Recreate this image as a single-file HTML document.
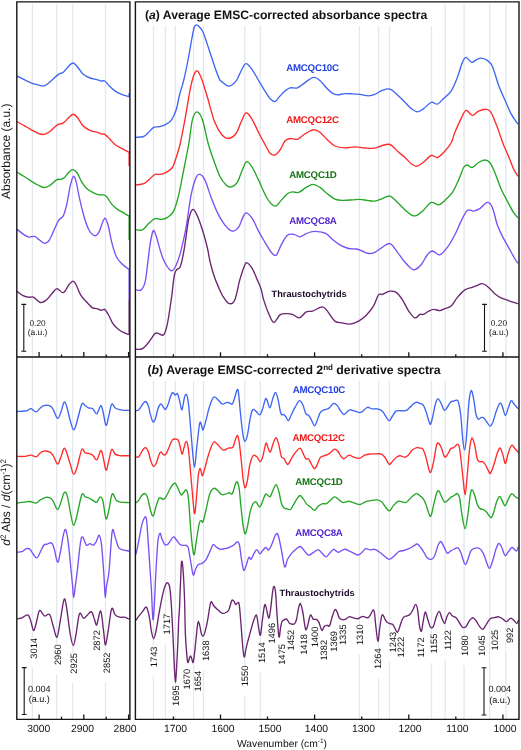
<!DOCTYPE html><html><head><meta charset="utf-8"><title>EMSC spectra</title><style>
html,body{margin:0;padding:0;background:#fff;width:521px;height:750px;overflow:hidden}
svg{display:block}text{font-family:"Liberation Sans",Arial,sans-serif;text-rendering:geometricPrecision}
</style></head><body>
<svg width="521" height="750" viewBox="0 0 521 750">
<defs>
<clipPath id="ctl"><rect x="16.8" y="1.9" width="113.1" height="355.1"/></clipPath>
<clipPath id="ctr"><rect x="135.4" y="1.9" width="383.6" height="355.1"/></clipPath>
<clipPath id="cbl"><rect x="16.8" y="357.0" width="113.1" height="362.4"/></clipPath>
<clipPath id="cbr"><rect x="135.4" y="357.0" width="383.6" height="362.4"/></clipPath>
</defs>
<path d="M153.5 3.9V357.0M153.5 357.0V719.4M165.4 3.9V357.0M165.4 357.0V719.4M175.3 3.9V357.0M175.3 357.0V719.4M193.6 3.9V357.0M193.6 357.0V719.4M203.5 3.9V357.0M203.5 357.0V719.4M244.8 3.9V357.0M244.8 357.0V719.4M260.3 3.9V357.0M260.3 357.0V719.4M359.4 3.9V357.0M359.4 357.0V719.4M378.6 3.9V357.0M378.6 357.0V719.4M389.5 3.9V357.0M389.5 357.0V719.4M431.5 3.9V357.0M431.5 357.0V719.4M445.2 3.9V357.0M445.2 357.0V719.4M464.1 3.9V357.0M464.1 357.0V719.4M489.7 3.9V357.0M489.7 357.0V719.4M506.0 3.9V357.0M506.0 357.0V719.4M32.4 3.9V719.4M56.7 3.9V719.4M72.6 3.9V719.4M105.5 3.9V719.4" stroke="#e1e8f0" stroke-width="1.3" fill="none"/>
<rect x="137" y="3" width="299" height="23" fill="#fff"/>
<rect x="137" y="358" width="310" height="23" fill="#fff"/>
<g clip-path="url(#ctr)" fill="none" stroke-width="1.35" stroke-linejoin="round" stroke-linecap="round"><path stroke="#3f66f2" d="M136.2 137.3C137.4 137.2 141.6 137.3 143.7 136.5C145.8 135.7 147.0 133.8 148.7 132.3C150.4 130.8 152.0 128.2 153.7 127.3C155.4 126.4 156.8 127.2 158.7 126.8C160.6 126.4 162.9 125.9 165.0 124.8C167.1 123.7 169.3 122.8 171.2 120.3C173.1 117.8 174.8 114.0 176.2 109.8C177.6 105.6 178.2 100.0 179.5 95.0C180.8 90.0 182.3 86.2 183.8 80.0C185.3 73.8 187.1 64.9 188.4 58.0C189.8 51.1 190.9 43.5 191.9 38.4C192.9 33.3 193.4 29.5 194.2 27.2C195.0 24.9 195.6 24.9 196.5 24.8C197.4 24.8 198.3 25.8 199.4 26.9C200.5 28.0 201.8 29.4 202.8 31.5C203.9 33.6 204.6 36.5 205.7 39.6C206.8 42.7 208.0 46.5 209.2 50.0C210.3 53.5 211.4 56.8 212.6 60.3C213.8 63.8 214.9 67.5 216.1 70.7C217.2 73.9 218.7 77.5 219.5 79.2C220.3 80.9 219.6 79.9 221.1 81.1C222.6 82.2 226.1 86.1 228.6 86.1C231.1 86.1 233.9 83.6 236.0 81.1C238.1 78.6 239.3 74.0 241.0 71.1C242.7 68.2 244.1 63.9 246.0 63.7C247.9 63.5 250.0 66.8 252.3 69.9C254.6 73.0 257.6 78.9 259.7 82.4C261.8 85.9 263.3 88.4 265.0 91.1C266.7 93.8 268.3 96.8 270.0 98.6C271.7 100.3 273.3 102.0 275.0 101.6C276.7 101.2 278.3 97.8 280.0 96.1C281.7 94.3 283.3 92.5 285.0 91.1C286.7 89.7 287.9 88.4 290.0 87.9C292.1 87.4 295.1 88.6 297.4 87.9C299.7 87.2 301.6 85.1 303.7 83.6C305.8 82.1 308.1 80.1 309.9 79.1C311.7 78.1 312.7 77.2 314.4 77.4C316.1 77.6 317.9 78.7 319.9 80.4C321.8 82.1 324.0 85.3 326.1 87.4C328.2 89.5 330.5 91.8 332.4 93.1C334.3 94.3 335.2 94.8 337.3 94.9C339.4 95.0 342.3 93.8 344.8 93.6C347.3 93.4 349.8 93.8 352.3 93.9C354.8 94.0 357.1 94.1 359.8 94.4C362.5 94.7 366.0 95.8 368.5 95.8C371.0 95.8 372.5 95.3 374.8 94.4C377.1 93.5 379.8 91.3 382.3 90.4C384.8 89.5 387.5 88.3 390.0 89.1C392.5 89.8 395.0 92.7 397.5 94.9C400.0 97.1 402.7 100.0 405.0 102.3C407.3 104.6 409.1 107.0 411.2 108.6C413.3 110.2 415.3 111.8 417.4 111.8C419.5 111.8 421.4 110.2 423.7 108.6C426.0 107.0 428.9 103.0 431.2 102.3C433.5 101.5 435.3 104.7 437.4 104.1C439.5 103.5 441.3 100.8 443.6 98.6C445.9 96.4 448.8 94.6 451.1 91.1C453.4 87.6 455.5 82.2 457.4 77.4C459.3 72.6 460.9 65.7 462.4 62.4C463.8 59.1 464.5 57.4 466.1 57.4C467.7 57.4 470.1 62.0 471.8 62.4C473.5 62.8 474.6 60.6 476.1 59.9C477.7 59.2 479.2 58.1 481.1 58.2C483.0 58.3 485.4 59.1 487.3 60.4C489.2 61.7 490.4 62.1 492.3 66.2C494.2 70.3 496.4 79.3 498.5 84.9C500.6 90.5 502.7 95.0 504.8 99.8C506.9 104.6 508.9 109.6 511.0 113.6C513.1 117.6 516.6 122.1 517.7 123.8"/><path stroke="#ff2a2a" d="M136.2 184.9C137.4 184.7 141.4 184.7 143.7 183.7C146.0 182.7 148.1 180.2 150.0 178.7C151.9 177.1 153.3 175.1 155.0 174.4C156.7 173.7 158.1 174.7 160.0 174.4C161.9 174.1 164.1 173.6 166.2 172.4C168.3 171.2 170.7 170.0 172.4 167.5C174.1 165.0 174.9 161.2 176.2 157.5C177.4 153.8 178.4 151.3 179.9 145.0C181.4 138.7 183.0 129.8 184.9 119.8C186.8 109.8 189.2 93.0 191.1 84.9C193.0 76.8 194.4 72.3 196.1 71.1C197.8 69.8 199.2 73.0 201.1 77.4C203.0 81.8 205.1 89.8 207.4 97.3C209.7 104.8 212.3 116.0 214.8 122.3C217.3 128.6 220.0 132.6 222.3 135.3C224.6 138.0 226.3 138.8 228.6 138.5C230.9 138.2 233.9 136.2 236.0 133.5C238.1 130.8 239.3 125.8 241.0 122.3C242.7 118.8 244.1 113.2 246.0 112.8C247.9 112.4 250.0 116.1 252.3 119.8C254.6 123.5 257.6 130.7 259.7 134.8C261.8 138.9 263.3 141.4 265.0 144.5C266.7 147.6 268.3 151.4 270.0 153.2C271.7 154.9 273.3 155.5 275.0 155.0C276.7 154.5 278.3 152.3 280.0 150.0C281.7 147.7 283.3 142.9 285.0 141.0C286.7 139.1 287.9 138.8 290.0 138.5C292.1 138.2 295.1 139.9 297.4 139.3C299.7 138.7 301.6 136.2 303.7 134.8C305.8 133.4 308.1 131.8 309.9 131.0C311.7 130.2 312.7 129.6 314.4 129.8C316.1 130.0 317.7 130.6 319.9 132.3C322.1 134.0 324.9 137.5 327.4 139.8C329.9 142.1 332.0 144.7 334.9 146.0C337.8 147.3 341.5 147.7 344.8 147.8C348.1 147.9 351.5 146.8 354.8 146.8C358.1 146.8 361.5 147.8 364.8 148.0C368.1 148.2 371.9 148.6 374.8 148.2C377.7 147.8 379.8 146.1 382.3 145.5C384.8 144.9 387.5 143.6 390.0 144.5C392.5 145.4 395.0 149.0 397.5 151.2C400.0 153.4 402.7 155.4 405.0 157.5C407.3 159.6 409.2 162.2 411.2 163.7C413.2 165.1 414.8 166.5 416.9 166.2C419.0 165.9 421.3 163.8 423.7 162.0C426.1 160.2 428.9 156.2 431.2 155.5C433.5 154.8 435.3 158.0 437.4 157.5C439.5 157.0 441.3 154.9 443.6 152.5C445.9 150.1 449.2 146.4 451.1 143.0C453.0 139.6 453.2 136.4 454.9 132.3C456.6 128.2 459.2 122.3 461.1 118.6C463.0 114.9 464.2 110.8 466.1 110.3C468.0 109.8 470.2 115.2 472.3 115.3C474.4 115.4 476.3 112.1 478.6 111.1C480.9 110.1 484.0 109.1 486.1 109.3C488.2 109.5 489.1 109.3 491.0 112.3C492.9 115.3 495.2 121.9 497.3 127.3C499.4 132.7 501.6 140.0 503.5 144.8C505.4 149.6 506.8 152.2 508.5 156.2C510.2 160.2 512.0 165.4 513.5 168.7C515.0 172.0 517.0 174.6 517.7 175.8"/><path stroke="#26a626" d="M136.2 229.8C137.2 229.8 140.4 230.8 142.5 229.8C144.6 228.8 146.6 225.5 148.7 223.6C150.8 221.7 152.9 219.3 155.0 218.6C157.1 217.9 159.1 219.6 161.2 219.4C163.3 219.2 165.3 218.8 167.4 217.4C169.5 216.0 171.8 214.8 173.7 211.1C175.6 207.3 177.0 201.8 178.7 194.9C180.4 188.1 182.0 178.3 183.7 170.0C185.3 161.7 187.1 153.4 188.6 145.0C190.1 136.6 191.0 125.3 192.4 119.8C193.8 114.3 195.2 111.8 196.9 111.8C198.6 111.8 200.5 114.3 202.4 119.8C204.3 125.3 206.7 138.3 208.6 145.0C210.5 151.7 211.7 154.8 213.6 160.0C215.5 165.2 217.7 172.0 219.8 176.2C221.9 180.3 224.2 183.1 226.1 184.9C228.0 186.7 229.2 187.3 231.1 186.9C233.0 186.5 235.4 185.2 237.3 182.4C239.2 179.6 240.7 173.4 242.3 170.0C243.9 166.6 245.1 162.1 246.8 161.7C248.5 161.3 250.4 164.5 252.3 167.5C254.2 170.5 256.4 175.5 258.5 179.9C260.6 184.3 262.8 189.9 264.7 193.7C266.6 197.4 268.2 200.3 270.0 202.4C271.8 204.5 273.6 206.4 275.5 206.1C277.4 205.8 279.2 202.5 281.2 200.4C283.2 198.3 285.5 195.1 287.4 193.7C289.3 192.3 290.5 192.1 292.4 191.9C294.3 191.7 296.4 193.2 298.7 192.4C301.0 191.7 303.8 188.7 306.2 187.4C308.6 186.1 310.6 184.4 312.9 184.4C315.2 184.4 317.5 185.9 319.9 187.4C322.3 188.9 324.9 191.8 327.4 193.7C329.9 195.6 332.4 198.0 334.9 199.1C337.4 200.2 339.4 200.3 342.3 200.4C345.2 200.5 349.4 200.1 352.3 199.9C355.2 199.7 357.3 199.3 359.8 199.4C362.3 199.5 364.8 200.1 367.3 200.4C369.8 200.7 372.3 201.4 374.8 201.1C377.3 200.8 379.8 199.4 382.3 198.6C384.8 197.8 387.5 195.5 390.0 196.1C392.5 196.7 395.0 200.1 397.5 202.4C400.0 204.7 402.7 207.8 405.0 209.9C407.3 212.0 409.3 214.0 411.2 214.9C413.1 215.8 414.1 216.4 416.2 215.6C418.3 214.8 421.2 212.1 423.7 209.9C426.2 207.7 428.7 203.2 431.2 202.4C433.7 201.6 436.4 205.2 438.7 204.9C441.0 204.6 442.6 202.5 444.9 200.4C447.2 198.3 450.1 195.8 452.4 192.4C454.7 189.0 456.7 184.1 458.6 179.9C460.5 175.8 462.2 170.0 463.6 167.5C465.1 165.0 465.9 165.0 467.3 165.0C468.8 165.0 470.4 167.9 472.3 167.5C474.2 167.1 476.5 163.8 478.6 162.5C480.7 161.2 482.9 160.0 484.8 160.0C486.7 160.0 488.1 160.4 489.8 162.5C491.5 164.6 492.9 168.0 494.8 172.4C496.7 176.8 498.9 183.9 501.0 188.7C503.1 193.5 505.2 197.1 507.3 201.1C509.4 205.1 511.8 209.7 513.5 212.4C515.2 215.1 517.0 216.7 517.7 217.5"/><path stroke="#7a50f5" d="M136.2 289.9C137.0 289.9 139.7 291.1 141.2 289.9C142.7 288.6 143.9 286.5 145.0 282.4C146.1 278.2 146.7 271.3 147.5 265.0C148.3 258.7 149.1 250.5 150.0 244.8C150.9 239.2 152.1 233.0 153.0 231.1C153.9 229.2 154.6 231.9 155.3 233.5C156.1 235.1 156.7 237.8 157.5 240.5C158.3 243.2 159.1 246.5 160.0 249.5C160.9 252.5 161.9 255.8 163.0 258.5C164.1 261.2 165.3 263.6 166.5 265.5C167.7 267.4 169.0 269.2 170.0 270.0C171.0 270.8 171.7 270.9 172.5 270.5C173.3 270.1 174.1 269.2 175.0 267.5C175.9 265.8 177.0 263.4 178.0 260.5C179.0 257.6 179.8 255.3 181.2 249.8C182.5 244.3 184.4 236.5 186.1 227.3C187.8 218.2 189.4 203.2 191.1 194.9C192.8 186.6 194.6 180.8 196.1 177.4C197.6 174.0 198.4 174.0 199.9 174.4C201.4 174.8 203.0 176.1 204.9 179.9C206.8 183.7 209.0 192.0 211.1 197.4C213.2 202.8 215.0 207.8 217.3 212.4C219.6 217.0 222.3 221.7 224.8 224.8C227.3 227.9 230.0 230.7 232.3 231.1C234.6 231.5 236.8 229.4 238.5 227.3C240.2 225.2 241.1 221.0 242.3 218.6C243.6 216.2 244.3 212.9 246.0 212.9C247.7 212.9 250.2 215.6 252.3 218.6C254.4 221.6 256.4 227.1 258.5 231.1C260.6 235.1 262.9 238.8 265.0 242.3C267.1 245.8 269.3 250.1 271.2 252.3C273.1 254.5 274.5 256.6 276.2 255.3C277.9 254.1 279.3 248.1 281.2 244.8C283.1 241.5 285.3 237.1 287.4 235.3C289.5 233.6 291.6 234.1 293.7 234.3C295.8 234.6 297.8 236.9 299.9 236.8C302.0 236.7 304.1 234.5 306.2 233.6C308.3 232.7 310.1 231.9 312.4 231.6C314.7 231.3 317.6 231.5 319.9 231.8C322.2 232.1 324.0 232.3 326.1 233.6C328.2 234.8 330.1 237.4 332.4 239.3C334.7 241.2 337.1 243.3 339.8 244.8C342.5 246.3 345.9 247.8 348.6 248.5C351.3 249.2 353.8 248.6 356.1 249.0C358.4 249.4 360.2 250.2 362.3 251.0C364.4 251.8 366.4 253.3 368.5 253.5C370.6 253.7 372.5 253.3 374.8 252.3C377.1 251.3 379.8 248.8 382.3 247.3C384.8 245.9 387.5 242.8 390.0 243.6C392.5 244.4 395.0 249.2 397.5 252.3C400.0 255.4 402.7 259.6 405.0 262.3C407.3 265.0 409.5 267.3 411.2 268.5C412.9 269.7 413.3 270.3 415.0 269.7C416.7 269.1 419.1 267.3 421.2 264.8C423.3 262.3 425.5 257.1 427.4 254.8C429.3 252.5 430.3 251.0 432.4 251.0C434.5 251.0 437.4 255.4 439.9 254.8C442.4 254.2 444.9 250.6 447.4 247.3C449.9 244.0 452.6 239.2 454.9 234.8C457.2 230.4 459.0 225.2 461.1 221.1C463.2 217.0 465.2 212.1 467.3 210.4C469.4 208.7 471.5 211.4 473.6 211.1C475.7 210.8 477.5 210.0 479.8 208.6C482.1 207.2 485.2 202.6 487.3 202.4C489.4 202.2 490.6 203.7 492.3 207.4C494.0 211.1 495.6 220.0 497.3 224.8C499.0 229.6 500.4 232.3 502.3 236.1C504.2 239.8 506.4 243.6 508.5 247.3C510.6 251.0 513.2 255.9 514.7 258.5C516.2 261.1 517.2 262.2 517.7 263.0"/><path stroke="#6a2470" d="M136.2 349.3C137.2 349.2 140.4 349.8 142.5 348.6C144.6 347.4 146.6 344.8 148.7 342.3C150.8 339.8 153.3 335.1 155.0 333.6C156.7 332.2 157.2 333.4 158.7 333.6C160.1 333.8 162.2 336.5 163.7 334.8C165.1 333.1 166.2 329.4 167.4 323.6C168.7 317.8 170.0 308.0 171.2 299.9C172.4 291.8 173.4 280.1 174.4 275.0C175.4 269.9 176.0 270.8 176.9 269.5C177.8 268.2 179.0 269.3 179.9 267.5C180.8 265.7 181.6 262.5 182.4 258.7C183.2 254.9 183.9 251.3 184.9 244.8C185.9 238.3 187.3 225.8 188.6 219.9C189.9 214.0 191.4 210.0 192.9 209.4C194.4 208.8 195.8 212.7 197.4 216.1C199.0 219.5 200.7 224.5 202.4 229.8C204.1 235.1 206.2 242.8 207.4 248.0C208.7 253.2 208.9 256.6 209.9 261.0C210.9 265.4 212.2 270.1 213.6 274.5C215.0 278.9 216.9 283.6 218.6 287.4C220.3 291.2 221.8 294.7 223.6 297.4C225.4 300.1 227.4 303.2 229.3 303.6C231.2 304.0 233.1 303.8 234.8 299.9C236.6 295.9 238.1 285.7 239.8 279.9C241.5 274.1 243.6 267.8 244.8 265.0C246.1 262.2 246.1 262.4 247.3 263.0C248.6 263.6 250.6 265.9 252.3 268.7C254.0 271.5 255.9 276.6 257.3 279.9C258.8 283.2 259.9 285.4 261.0 288.7C262.1 292.0 262.4 295.8 263.7 299.9C265.0 304.0 267.0 309.9 268.7 313.6C270.4 317.4 271.8 322.2 273.7 322.4C275.6 322.6 277.9 316.4 280.0 314.9C282.1 313.4 284.1 313.7 286.2 313.6C288.3 313.5 290.2 313.7 292.4 314.4C294.6 315.1 297.1 318.3 299.4 317.9C301.7 317.5 304.0 313.0 306.2 311.9C308.4 310.8 309.7 311.9 312.4 311.1C315.1 310.3 319.9 306.9 322.4 306.9C324.9 306.9 325.3 308.7 327.4 311.1C329.5 313.5 332.4 319.1 334.9 321.1C337.4 323.1 339.8 322.4 342.3 322.9C344.8 323.4 347.1 324.4 349.8 324.1C352.5 323.8 355.9 322.6 358.6 321.1C361.3 319.7 363.5 317.9 366.0 315.4C368.5 312.9 371.4 309.5 373.5 306.1C375.6 302.7 377.0 296.8 378.5 294.9C380.0 292.9 380.4 295.0 382.3 294.4C384.2 293.8 387.7 291.5 390.0 291.2C392.3 290.9 394.1 290.9 396.2 292.4C398.3 293.8 400.4 296.8 402.5 299.9C404.6 303.0 406.6 308.1 408.7 311.1C410.8 314.1 413.1 317.3 415.0 317.9C416.9 318.4 418.4 315.0 419.9 314.4C421.3 313.8 422.2 314.9 423.7 314.4C425.2 313.8 427.0 311.9 428.7 311.1C430.4 310.3 431.8 309.5 433.7 309.4C435.6 309.3 438.0 310.7 439.9 310.6C441.8 310.5 443.0 309.4 444.9 308.6C446.8 307.9 449.0 308.0 451.1 306.1C453.2 304.2 455.1 300.1 457.4 297.4C459.7 294.7 462.4 291.6 464.9 289.9C467.4 288.2 470.2 288.1 472.3 287.4C474.4 286.6 475.6 286.0 477.3 285.4C479.0 284.8 480.4 283.4 482.3 283.7C484.2 284.0 486.5 285.7 488.6 287.4C490.7 289.1 492.7 291.9 494.8 293.7C496.9 295.4 498.7 296.8 501.0 297.9C503.3 299.0 505.7 299.7 508.5 300.6C511.3 301.6 516.2 303.1 517.7 303.6"/></g>
<g clip-path="url(#ctl)" fill="none" stroke-width="1.35" stroke-linejoin="round" stroke-linecap="round"><path stroke="#3f66f2" d="M17.3 76.2C18.4 76.8 21.7 78.4 24.2 79.6C26.7 80.8 30.0 82.4 32.3 83.3C34.6 84.2 36.3 84.4 38.0 84.9C39.7 85.4 41.1 86.2 42.6 86.1C44.1 86.0 45.5 85.3 47.2 84.2C48.9 83.1 51.1 80.9 53.0 79.2C54.9 77.5 57.1 75.3 58.8 74.1C60.5 72.9 61.7 73.6 63.4 72.2C65.1 70.8 67.5 67.3 69.1 65.8C70.7 64.3 71.7 62.9 73.0 63.0C74.3 63.1 75.5 64.7 77.2 66.5C78.9 68.3 80.8 72.2 82.9 74.1C85.0 76.0 87.6 77.1 89.9 78.0C92.2 78.9 94.9 79.1 96.8 79.6C98.7 80.1 100.1 80.8 101.4 81.0C102.7 81.2 103.5 80.2 104.8 81.0C106.1 81.8 107.7 84.4 109.4 86.1C111.1 87.8 113.1 89.7 115.2 91.1C117.3 92.5 119.9 93.7 122.1 94.6C124.3 95.5 127.5 96.3 128.6 96.6"/><path stroke="#ff2a2a" d="M17.3 121.8C18.4 122.5 21.7 124.3 24.2 125.7C26.7 127.1 30.0 129.0 32.3 130.3C34.6 131.6 36.1 132.6 38.0 133.3C39.9 134.0 41.9 134.7 43.8 134.4C45.7 134.1 47.6 133.0 49.5 131.7C51.4 130.4 53.8 127.7 55.3 126.4C56.8 125.1 57.4 124.7 58.8 124.1C60.1 123.5 61.7 124.1 63.4 122.9C65.1 121.8 67.5 118.7 69.1 117.2C70.7 115.8 71.7 114.2 73.0 114.2C74.3 114.2 75.5 115.3 77.2 117.2C78.9 119.1 80.8 123.5 82.9 125.7C85.0 127.9 87.6 129.2 89.9 130.3C92.2 131.4 94.9 131.5 96.8 132.1C98.7 132.7 100.1 133.6 101.4 134.0C102.7 134.4 103.5 133.6 104.8 134.4C106.1 135.2 107.7 136.9 109.4 138.6C111.1 140.3 113.1 143.1 115.2 144.8C117.3 146.5 119.9 147.5 122.1 148.7C124.3 149.9 127.5 151.4 128.6 152.0"/><path stroke="#26a626" d="M17.3 172.3C18.4 173.0 21.7 174.9 24.2 176.5C26.7 178.1 30.0 180.4 32.3 181.8C34.6 183.2 36.1 184.1 38.0 185.0C39.9 185.9 41.9 187.4 43.8 187.5C45.7 187.6 47.4 187.0 49.5 185.7C51.6 184.4 54.6 181.0 56.5 179.9C58.4 178.8 59.8 179.6 61.1 179.2C62.4 178.8 63.2 178.8 64.5 177.6C65.8 176.4 67.7 173.2 69.1 171.9C70.5 170.6 71.7 169.4 73.0 169.6C74.3 169.8 75.7 170.9 77.2 173.0C78.7 175.1 80.1 179.5 81.8 182.2C83.5 184.9 85.6 187.5 87.5 189.2C89.4 190.9 91.4 191.6 93.3 192.6C95.2 193.6 97.4 194.5 99.1 194.9C100.8 195.3 102.4 194.5 103.7 194.9C105.0 195.3 105.8 195.7 107.1 197.2C108.4 198.7 110.0 202.1 111.7 204.1C113.4 206.1 115.6 208.0 117.5 209.4C119.4 210.8 121.4 211.5 123.2 212.6C125.0 213.7 127.7 215.3 128.6 215.8"/><path stroke="#7a50f5" d="M17.3 229.5C18.3 230.3 21.2 232.8 23.1 234.1C25.0 235.4 26.9 236.7 28.8 237.1C30.7 237.5 32.9 235.9 34.6 236.4C36.3 236.9 37.6 238.7 39.2 239.8C40.9 241.0 42.8 243.3 44.5 243.3C46.2 243.3 47.9 242.1 49.5 239.8C51.1 237.5 52.7 232.8 54.2 229.5C55.8 226.2 57.3 222.5 58.8 220.2C60.3 217.9 62.1 218.3 63.4 215.6C64.7 212.9 65.6 209.1 66.8 204.1C68.0 199.1 69.2 190.3 70.3 185.7C71.4 181.1 72.3 177.3 73.3 176.5C74.2 175.7 75.0 177.4 76.0 181.1C77.0 184.8 78.2 192.4 79.5 198.4C80.8 204.4 82.6 211.6 84.1 216.8C85.6 222.0 87.0 226.3 88.7 229.5C90.4 232.7 92.8 235.3 94.5 235.7C96.2 236.1 97.8 234.0 99.1 231.8C100.4 229.6 101.5 224.7 102.5 222.5C103.5 220.3 104.3 217.8 105.3 218.4C106.3 219.0 107.2 222.1 108.3 226.0C109.4 229.9 110.4 237.0 111.7 242.1C113.0 247.2 114.6 252.8 116.3 256.5C118.0 260.1 120.0 261.9 122.1 264.0C124.1 266.1 127.5 268.2 128.6 269.0"/><path stroke="#6a2470" d="M17.3 291.5C18.3 292.2 21.2 294.7 23.1 295.6C25.0 296.6 27.1 296.9 28.8 297.2C30.5 297.5 31.5 296.3 33.4 297.2C35.3 298.1 38.2 302.0 40.3 302.5C42.4 303.0 44.2 301.6 46.1 300.2C48.0 298.8 50.0 295.7 51.8 293.8C53.6 291.9 55.0 288.9 56.9 288.7C58.8 288.5 61.4 293.3 63.4 292.6C65.4 291.9 67.5 286.4 69.1 284.5C70.7 282.6 71.8 281.1 73.0 281.1C74.2 281.1 74.7 282.2 76.0 284.5C77.3 286.8 78.9 292.0 80.6 294.9C82.3 297.8 84.5 299.7 86.4 301.8C88.3 303.9 90.5 306.5 92.2 307.6C93.9 308.8 95.3 308.2 96.8 308.7C98.3 309.1 100.1 310.2 101.4 310.3C102.7 310.4 103.7 308.7 104.8 309.4C105.9 310.1 106.9 312.1 108.3 314.5C109.7 316.9 111.2 321.2 112.9 323.7C114.6 326.2 116.7 328.0 118.6 329.5C120.5 331.0 122.7 332.1 124.4 332.9C126.1 333.7 127.9 334.2 128.6 334.5"/></g>
<g clip-path="url(#cbr)" fill="none" stroke-width="1.35" stroke-linejoin="round" stroke-linecap="round"><path stroke="#3f66f2" d="M136.0 410.7C136.5 410.6 137.7 410.9 138.8 409.8C139.9 408.7 141.6 405.4 142.7 404.0C143.8 402.6 144.6 401.2 145.6 401.5C146.6 401.8 147.6 403.7 148.4 405.9C149.2 408.1 149.7 411.9 150.4 414.5C151.2 417.1 152.1 421.0 152.9 421.8C153.7 422.6 154.3 421.5 155.2 419.3C156.0 417.1 157.1 411.4 158.0 408.8C158.9 406.2 159.9 404.2 160.9 404.0C161.9 403.8 163.0 406.9 163.8 407.8C164.6 408.7 164.9 410.0 165.7 409.2C166.5 408.4 167.8 405.1 168.6 403.0C169.4 400.9 169.8 398.1 170.5 396.3C171.2 394.6 171.8 392.7 172.6 392.5C173.4 392.3 174.5 394.8 175.3 395.0C176.1 395.2 176.8 392.5 177.6 393.8C178.4 395.1 179.4 400.3 180.1 403.0C180.8 405.7 181.3 410.8 182.0 409.8C182.7 408.9 183.8 399.9 184.5 397.3C185.2 394.7 185.6 394.1 186.2 394.4C186.8 394.7 187.2 395.5 187.8 399.2C188.4 402.9 189.0 408.5 189.7 416.5C190.4 424.5 191.4 438.7 192.2 447.2C193.0 455.7 193.7 467.3 194.5 467.3C195.3 467.3 195.9 454.6 196.8 447.2C197.7 439.8 198.9 426.7 199.7 423.2C200.5 419.7 201.2 425.0 201.8 426.1C202.4 427.2 202.4 430.9 203.1 429.9C203.8 428.9 205.0 423.8 206.0 420.3C207.0 416.8 207.9 412.2 208.9 408.8C209.9 405.4 210.9 402.2 211.8 400.2C212.7 398.2 213.4 397.1 214.3 396.9C215.2 396.7 216.2 398.0 217.5 399.2C218.8 400.4 220.9 403.4 222.3 404.0C223.8 404.6 225.1 402.8 226.2 402.6C227.3 402.4 228.0 402.4 229.0 402.6C230.0 402.8 231.3 404.9 232.3 404.0C233.3 403.1 234.0 399.7 234.8 397.3C235.6 394.9 236.7 390.2 237.3 389.6C237.9 389.0 238.1 389.2 238.6 393.4C239.1 397.5 239.8 407.4 240.6 414.5C241.3 421.6 242.4 431.2 243.1 435.7C243.8 440.2 244.3 441.4 245.0 441.4C245.7 441.4 246.4 439.5 247.3 435.7C248.2 431.9 249.3 422.7 250.2 418.4C251.1 414.1 251.6 411.0 252.6 409.8C253.6 408.6 254.7 410.2 255.9 411.1C257.1 412.0 258.7 415.3 259.8 414.9C260.9 414.5 261.7 411.5 262.6 408.8C263.6 406.1 264.7 400.1 265.5 398.8C266.3 397.5 266.7 399.6 267.4 401.1C268.1 402.6 269.0 408.1 269.9 407.8C270.8 407.5 271.7 401.8 272.6 399.2C273.5 396.6 274.6 392.5 275.5 392.5C276.4 392.5 277.1 395.7 278.0 399.2C278.9 402.7 279.9 411.1 280.9 413.6C281.8 416.2 282.9 414.0 283.7 414.5C284.5 415.0 284.9 415.5 285.7 416.5C286.5 417.5 287.6 421.0 288.5 420.7C289.4 420.4 290.3 416.8 291.4 414.5C292.5 412.2 293.9 409.2 295.3 406.9C296.7 404.6 298.2 401.0 299.5 400.7C300.8 400.4 301.8 402.9 302.9 405.0C303.9 407.1 304.8 411.9 305.8 413.6C306.8 415.4 307.7 414.4 308.7 415.5C309.7 416.6 310.6 418.6 311.6 420.3C312.6 422.0 313.6 425.7 314.5 425.7C315.4 425.7 316.4 422.5 317.3 420.3C318.2 418.1 319.1 414.4 320.2 412.6C321.3 410.9 322.6 410.5 324.0 409.8C325.4 409.1 327.2 409.5 328.8 408.4C330.4 407.3 332.2 403.8 333.6 403.4C335.1 403.0 336.4 404.7 337.5 405.9C338.6 407.1 339.3 409.3 340.4 410.7C341.4 412.1 342.7 414.3 343.8 414.5C344.9 414.7 346.1 412.5 347.1 411.7C348.1 410.9 348.7 409.9 350.0 409.8C351.3 409.7 353.1 410.6 354.8 411.1C356.5 411.6 358.5 412.8 360.1 412.6C361.7 412.4 363.1 410.7 364.3 409.8C365.6 408.9 366.3 407.5 367.6 407.3C368.9 407.1 370.5 408.6 372.0 408.8C373.5 409.1 375.4 408.6 376.8 408.8C378.2 409.0 379.6 409.2 380.7 409.8C381.8 410.4 382.6 411.3 383.5 412.6C384.4 413.9 385.4 416.0 386.4 417.4C387.4 418.8 388.3 420.8 389.3 420.7C390.3 420.6 391.1 418.1 392.2 416.5C393.3 414.9 394.6 412.1 396.0 411.1C397.4 410.1 399.2 410.8 400.8 410.7C402.4 410.6 404.2 411.2 405.6 410.7C407.1 410.2 408.2 408.9 409.5 407.8C410.8 406.7 412.1 404.9 413.3 404.0C414.5 403.1 415.5 402.2 416.7 402.1C417.9 402.1 419.5 403.3 420.5 403.7C421.5 404.1 422.0 403.4 422.9 404.6C423.8 405.8 424.9 408.1 425.8 410.7C426.8 413.3 427.8 418.1 428.6 420.3C429.4 422.5 429.8 425.2 430.6 424.1C431.4 423.0 432.6 417.0 433.4 413.6C434.2 410.2 434.6 406.5 435.4 404.0C436.1 401.5 437.0 399.0 437.9 398.8C438.8 398.6 439.6 400.7 440.7 402.6C441.8 404.5 443.3 409.7 444.5 410.3C445.7 410.9 446.8 407.9 447.8 406.5C448.8 405.1 449.7 403.0 450.7 402.1C451.7 401.2 452.6 401.4 453.6 401.1C454.6 400.8 455.7 400.0 456.5 400.2C457.3 400.4 457.7 399.7 458.4 402.1C459.1 404.5 460.0 408.6 460.7 414.5C461.4 420.4 462.0 431.7 462.6 437.6C463.2 443.5 463.9 450.1 464.5 450.1C465.1 450.1 465.7 445.5 466.4 437.6C467.1 429.8 468.1 410.8 468.9 403.0C469.7 395.2 470.4 391.2 471.2 390.6C472.0 390.0 472.9 395.2 473.7 399.2C474.5 403.2 475.2 411.1 476.0 414.5C476.8 417.9 477.6 418.8 478.5 419.3C479.4 419.8 480.4 417.5 481.4 417.4C482.4 417.2 483.3 417.5 484.3 418.4C485.3 419.3 486.2 421.3 487.2 422.6C488.2 423.9 489.2 426.2 490.1 426.1C491.1 426.0 491.9 424.4 492.9 422.2C493.8 419.9 494.7 415.7 495.8 412.6C496.9 409.5 498.6 404.3 499.7 403.4C500.8 402.4 501.6 404.9 502.5 406.9C503.4 408.9 504.4 415.4 505.4 415.5C506.4 415.6 507.3 410.3 508.3 407.8C509.3 405.3 510.2 401.3 511.2 400.7C512.1 400.1 512.9 402.7 514.0 404.0C515.1 405.3 517.2 407.7 517.9 408.4"/><path stroke="#ff2a2a" d="M136.0 456.8C136.5 456.8 137.7 457.9 138.8 456.8C139.9 455.7 141.6 451.5 142.7 450.0C143.8 448.5 144.6 447.3 145.6 447.6C146.6 447.9 147.6 449.8 148.4 452.0C149.2 454.2 149.8 458.2 150.7 460.6C151.6 463.0 152.6 466.0 153.6 466.3C154.6 466.6 155.6 464.4 156.5 462.5C157.4 460.6 158.3 456.6 159.0 454.9C159.7 453.1 160.1 452.0 160.9 452.0C161.7 452.0 162.9 454.6 163.8 454.9C164.7 455.2 165.2 455.3 166.1 453.9C167.0 452.4 168.4 448.5 169.5 446.2C170.6 443.9 171.3 441.1 172.4 439.9C173.5 438.7 175.2 438.9 176.3 439.1C177.4 439.4 177.9 438.9 178.8 441.4C179.8 443.9 181.2 452.8 182.0 453.9C182.8 455.0 183.2 450.2 183.9 448.1C184.6 446.0 185.4 441.2 186.2 441.4C186.9 441.6 187.7 443.7 188.4 449.1C189.2 454.5 190.1 467.4 190.7 474.0C191.3 480.6 191.4 482.2 192.0 488.8C192.6 495.4 193.8 511.8 194.5 513.4C195.2 515.0 195.8 504.7 196.4 498.4C197.0 492.1 197.7 480.4 198.3 475.4C198.9 470.4 199.4 469.2 199.9 468.6C200.4 468.0 200.8 470.3 201.2 471.5C201.6 472.7 202.0 476.3 202.6 475.7C203.2 475.1 204.1 470.8 205.0 467.7C205.9 464.6 206.8 460.5 207.9 456.8C209.0 453.1 210.8 447.8 211.8 445.3C212.8 442.8 213.2 442.0 214.1 441.8C215.0 441.6 216.0 442.9 217.5 444.3C219.0 445.7 221.5 449.5 223.3 450.1C225.1 450.7 226.5 448.6 228.1 448.1C229.7 447.6 231.7 448.6 232.9 447.2C234.1 445.8 234.6 441.4 235.4 439.5C236.2 437.6 237.0 434.7 237.7 435.7C238.4 436.7 239.0 440.8 239.6 445.3C240.2 449.8 240.9 456.9 241.5 462.5C242.1 468.1 242.5 475.0 243.1 479.2C243.7 483.4 244.3 487.5 245.0 487.8C245.7 488.1 246.5 484.8 247.3 481.1C248.1 477.4 248.7 470.0 249.6 465.8C250.5 461.6 251.8 457.3 253.0 455.8C254.2 454.3 255.7 455.8 256.9 456.8C258.1 457.8 259.3 461.8 260.3 461.6C261.3 461.4 262.1 458.9 263.0 455.8C263.9 452.8 265.1 444.7 265.9 443.3C266.7 441.9 267.1 445.8 267.8 447.2C268.5 448.6 269.4 452.6 270.3 452.0C271.2 451.4 272.2 445.7 273.2 443.3C274.2 440.9 275.2 437.3 276.1 437.6C277.1 437.9 278.0 442.1 278.9 445.3C279.8 448.5 280.5 454.6 281.4 456.8C282.3 459.0 283.1 457.4 284.1 458.7C285.1 460.0 286.4 464.5 287.6 464.5C288.8 464.5 290.1 460.7 291.4 458.7C292.7 456.7 293.9 454.4 295.3 452.6C296.8 450.8 298.8 448.1 300.1 448.1C301.4 448.2 301.9 451.1 302.9 452.9C303.8 454.7 304.8 457.7 305.8 458.7C306.8 459.7 307.7 458.1 308.7 459.1C309.7 460.1 310.6 462.9 311.6 464.5C312.6 466.1 313.6 468.7 314.5 468.7C315.4 468.7 316.4 466.3 317.3 464.5C318.2 462.7 319.1 459.1 320.2 457.7C321.3 456.2 322.6 456.4 324.0 455.8C325.4 455.2 327.0 455.0 328.8 453.9C330.6 452.8 333.0 449.4 334.6 449.1C336.2 448.8 337.3 450.7 338.4 452.0C339.5 453.3 340.3 455.7 341.3 456.8C342.3 457.9 342.9 459.0 344.2 458.7C345.5 458.4 347.4 455.4 349.0 455.2C350.6 454.9 352.1 456.7 353.8 457.2C355.6 457.7 357.6 458.7 359.5 458.3C361.4 457.9 363.4 455.6 365.3 454.9C367.2 454.2 369.2 454.1 371.1 453.9C373.0 453.7 375.2 453.9 376.8 453.9C378.4 453.9 379.4 453.4 380.7 453.9C382.0 454.4 383.4 455.5 384.5 456.8C385.6 458.1 386.5 460.3 387.4 461.6C388.2 462.9 388.7 464.7 389.6 464.5C390.6 464.3 391.9 461.9 393.1 460.6C394.3 459.3 395.7 457.6 397.0 456.8C398.3 456.0 399.5 455.7 400.8 455.8C402.1 455.9 403.4 457.4 404.7 457.2C406.0 457.0 407.2 456.1 408.5 454.9C409.8 453.7 410.9 451.3 412.3 450.1C413.7 448.9 415.4 447.9 416.7 447.6C418.0 447.3 419.0 447.9 420.0 448.1C421.0 448.4 421.9 447.7 422.9 449.1C423.9 450.6 424.9 453.6 425.8 456.8C426.8 460.0 427.8 465.7 428.6 468.3C429.4 470.9 429.9 473.5 430.8 472.2C431.7 470.9 432.9 464.9 433.8 460.6C434.7 456.3 435.6 449.1 436.3 446.2C437.0 443.3 437.4 442.8 438.2 443.0C439.0 443.2 440.0 444.9 441.1 447.2C442.2 449.5 443.5 455.7 444.6 456.8C445.7 457.9 446.8 455.2 447.8 453.9C448.8 452.5 449.7 449.8 450.7 448.7C451.7 447.6 452.5 448.3 453.6 447.6C454.7 446.9 456.4 444.4 457.4 444.3C458.3 444.2 458.6 444.2 459.3 447.2C460.0 450.2 460.7 457.0 461.3 462.5C461.9 468.0 462.6 474.6 463.2 480.0C463.8 485.4 464.5 494.9 465.1 494.9C465.7 494.9 466.3 485.1 466.8 480.0C467.3 474.9 467.7 469.2 468.2 464.0C468.7 458.8 469.0 453.3 469.6 449.0C470.2 444.7 471.0 438.6 471.8 438.0C472.6 437.4 473.8 441.9 474.7 445.3C475.6 448.8 476.4 456.0 477.2 458.7C478.0 461.4 478.6 461.1 479.5 461.6C480.4 462.1 481.4 461.1 482.4 461.6C483.4 462.1 484.4 463.1 485.3 464.5C486.2 465.9 487.2 468.7 488.1 470.2C489.0 471.7 489.4 474.3 490.4 473.4C491.4 472.4 492.7 468.1 493.9 464.5C495.1 460.9 496.6 454.7 497.7 452.0C498.8 449.3 499.3 447.6 500.2 448.1C501.1 448.6 502.0 452.3 502.9 454.9C503.8 457.5 504.5 463.8 505.4 463.5C506.3 463.2 507.2 455.9 508.3 452.9C509.4 449.9 510.6 446.0 511.7 445.3C512.8 444.6 514.0 447.6 515.0 448.7C516.0 449.8 517.4 451.4 517.9 452.0"/><path stroke="#26a626" d="M136.0 502.6C136.5 502.2 137.9 501.5 138.8 500.3C139.8 499.1 140.7 496.6 141.7 495.5C142.7 494.4 144.0 493.3 145.0 493.6C146.0 493.9 146.6 494.7 147.5 497.4C148.4 500.1 149.5 506.8 150.4 509.9C151.3 513.0 152.2 516.6 153.2 516.0C154.1 515.4 155.1 509.0 156.1 506.1C157.1 503.2 158.2 499.8 159.0 498.4C159.8 497.0 160.1 497.9 160.9 498.0C161.7 498.1 162.8 499.7 163.8 499.3C164.8 498.9 165.8 497.1 166.7 495.5C167.6 493.9 168.6 491.6 169.5 489.8C170.4 488.1 171.4 486.1 172.4 485.0C173.4 483.9 174.3 482.8 175.3 483.4C176.3 484.0 177.2 486.9 178.2 488.8C179.2 490.7 180.1 494.3 181.1 494.9C182.1 495.5 183.0 493.0 183.9 492.2C184.8 491.4 185.7 488.8 186.4 489.8C187.2 490.8 187.7 491.8 188.4 498.4C189.1 504.9 190.0 520.8 190.7 529.1C191.4 537.4 192.0 544.1 192.6 548.3C193.2 552.5 193.7 555.8 194.3 554.5C194.9 553.2 195.6 545.8 196.4 540.6C197.2 535.4 198.5 526.6 199.3 523.3C200.1 519.9 200.6 520.8 201.2 520.5C201.8 520.2 202.3 523.6 203.1 521.8C203.9 520.0 204.9 514.6 206.0 509.9C207.1 505.2 208.6 497.2 209.9 493.6C211.2 490.0 212.4 488.9 213.7 488.4C215.0 487.8 216.2 489.3 217.5 490.3C218.8 491.3 220.1 493.9 221.4 494.5C222.7 495.1 223.9 494.5 225.2 494.2C226.5 493.9 227.8 492.9 229.0 492.8C230.2 492.7 231.2 495.3 232.3 493.8C233.4 492.3 234.6 485.9 235.4 484.0C236.2 482.1 236.7 481.3 237.3 482.1C237.9 482.9 238.6 484.5 239.2 488.8C239.8 493.1 240.4 501.9 241.1 508.0C241.8 514.1 242.4 521.0 243.1 525.3C243.8 529.6 244.3 533.6 245.0 533.9C245.7 534.2 246.4 530.9 247.3 527.2C248.2 523.5 249.2 515.7 250.2 511.8C251.1 507.9 252.1 505.5 253.0 503.8C253.9 502.1 254.8 501.3 255.9 501.8C257.0 502.3 258.7 507.1 259.8 507.0C260.9 506.9 261.7 503.4 262.6 501.3C263.6 499.2 264.6 495.2 265.5 494.2C266.4 493.2 267.2 495.1 268.0 495.5C268.8 495.9 269.4 497.4 270.3 496.5C271.2 495.6 272.2 491.8 273.2 489.8C274.2 487.8 275.2 484.3 276.1 484.6C277.1 484.9 278.0 488.6 278.9 491.7C279.8 494.8 280.5 500.5 281.4 503.2C282.3 505.9 283.1 507.1 284.1 508.0C285.1 508.9 286.1 508.6 287.2 508.9C288.3 509.1 289.5 510.1 290.5 509.5C291.5 508.9 292.2 507.0 293.3 505.1C294.4 503.2 296.1 500.0 297.2 498.4C298.3 496.8 299.2 495.5 300.1 495.5C301.1 495.5 301.8 497.0 302.9 498.4C304.0 499.8 305.5 502.7 306.8 504.1C308.1 505.5 309.3 506.0 310.6 507.0C311.9 508.0 313.2 510.4 314.5 510.3C315.8 510.2 317.0 507.2 318.3 506.1C319.6 505.0 320.8 504.2 322.1 503.8C323.4 503.4 324.9 504.1 326.0 503.8C327.1 503.5 327.4 503.0 328.8 501.8C330.2 500.6 333.0 497.3 334.6 496.9C336.2 496.5 337.0 498.4 338.4 499.3C339.8 500.2 341.4 502.3 343.2 502.6C345.0 502.9 347.1 501.2 349.0 501.3C350.9 501.4 352.9 502.7 354.8 503.2C356.7 503.7 358.4 504.7 360.1 504.5C361.9 504.3 363.6 502.4 365.3 501.8C367.0 501.2 368.2 501.0 370.1 500.7C372.0 500.4 374.9 499.7 376.8 499.9C378.7 500.1 380.2 500.6 381.6 501.8C383.1 503.0 384.2 505.5 385.5 507.0C386.8 508.5 388.0 511.0 389.3 510.9C390.6 510.8 391.7 507.7 393.1 506.1C394.5 504.5 396.4 502.0 397.9 501.3C399.3 500.6 400.5 501.6 401.8 501.8C403.1 502.0 404.3 503.0 405.6 502.6C406.9 502.2 408.2 500.5 409.5 499.3C410.8 498.1 412.1 496.4 413.3 495.5C414.5 494.6 415.5 493.5 416.7 493.6C417.9 493.7 419.5 495.5 420.5 496.3C421.5 497.1 422.0 497.1 422.9 498.4C423.8 499.7 424.9 501.7 425.8 504.1C426.8 506.5 427.8 510.8 428.6 512.8C429.5 514.8 430.0 517.5 430.9 516.0C431.8 514.5 432.9 507.7 433.8 504.1C434.7 500.5 435.5 496.4 436.3 494.2C437.1 492.0 437.7 490.3 438.6 490.7C439.5 491.1 440.5 494.6 441.5 496.5C442.5 498.4 443.6 501.6 444.6 502.2C445.7 502.8 446.8 501.1 447.8 500.3C448.8 499.5 449.6 498.2 450.7 497.4C451.8 496.6 453.1 496.1 454.2 495.5C455.3 494.9 456.5 493.1 457.4 493.6C458.3 494.1 459.0 495.0 459.7 498.4C460.4 501.8 460.9 508.7 461.8 513.7C462.7 518.8 464.1 528.7 465.1 528.7C466.1 528.7 467.1 519.4 468.0 513.7C468.9 508.0 469.6 498.5 470.3 494.5C471.0 490.5 471.5 489.6 472.2 489.8C472.9 490.0 473.8 492.9 474.7 495.5C475.6 498.1 476.6 502.9 477.6 505.1C478.6 507.3 479.6 508.2 480.5 508.9C481.4 509.6 482.4 509.0 483.3 509.5C484.2 510.0 485.2 510.8 486.2 511.8C487.2 512.8 488.2 514.7 489.1 515.7C490.0 516.7 490.6 518.2 491.4 517.6C492.2 517.0 493.0 514.5 493.9 511.8C494.8 509.1 495.8 503.9 496.8 501.3C497.8 498.8 498.8 496.5 499.7 496.5C500.6 496.5 501.6 499.8 502.5 501.3C503.4 502.8 504.0 506.0 505.0 505.7C506.0 505.4 507.2 501.3 508.3 499.3C509.4 497.3 510.6 494.1 511.7 493.6C512.8 493.1 514.0 495.7 515.0 496.5C516.0 497.3 517.4 498.1 517.9 498.4"/><path stroke="#7a50f5" d="M136.0 554.0C136.5 551.8 137.9 545.4 138.8 540.6C139.8 535.8 140.7 529.1 141.7 525.3C142.7 521.5 143.8 518.6 144.6 517.6C145.4 516.6 145.9 515.7 146.5 519.5C147.1 523.3 147.6 533.9 148.1 540.6C148.6 547.4 148.9 552.0 149.4 560.0C149.9 568.0 150.7 578.5 151.3 588.4C151.9 598.2 152.4 615.9 152.9 619.1C153.4 622.3 153.8 614.1 154.2 607.6C154.6 601.1 155.1 587.9 155.5 580.0C155.9 572.1 156.2 566.6 156.6 560.0C157.0 553.4 157.4 545.1 158.0 540.6C158.6 536.1 159.3 533.6 160.0 533.3C160.7 533.0 161.1 536.8 161.9 538.7C162.7 540.6 163.9 543.5 164.8 544.5C165.8 545.5 166.7 545.1 167.6 544.5C168.5 543.9 169.5 541.9 170.5 540.6C171.5 539.3 172.4 536.9 173.4 536.8C174.4 536.6 175.2 538.4 176.3 539.7C177.4 541.0 178.8 543.5 180.1 544.5C181.4 545.5 182.8 545.2 183.9 545.4C185.0 545.5 185.7 544.9 186.4 545.4C187.2 545.9 187.7 545.6 188.4 548.3C189.1 551.0 189.9 557.0 190.7 561.5C191.5 566.0 192.4 573.7 193.2 575.0C194.0 576.3 194.7 571.0 195.5 569.2C196.3 567.4 197.2 565.4 198.3 564.4C199.4 563.4 200.9 564.2 202.2 563.4C203.5 562.6 204.9 561.2 206.0 559.6C207.1 558.0 208.1 555.5 208.9 553.8C209.7 552.1 210.1 551.0 210.8 549.5C211.5 548.0 212.3 544.9 213.3 544.5C214.3 544.1 215.4 546.5 216.6 547.3C217.8 548.1 219.1 549.1 220.4 549.3C221.7 549.5 223.0 548.9 224.3 548.7C225.6 548.5 226.8 548.4 228.1 547.9C229.4 547.4 230.9 546.5 231.9 546.0C232.9 545.5 232.8 545.7 233.8 545.0C234.8 544.3 236.7 541.7 237.7 541.8C238.7 541.9 239.0 542.6 239.6 545.6C240.2 548.6 240.8 555.4 241.5 559.5C242.2 563.6 243.0 569.4 243.8 570.3C244.6 571.2 245.5 567.2 246.3 565.0C247.1 562.8 248.0 558.3 248.8 557.3C249.6 556.3 250.2 559.9 251.1 559.2C252.0 558.6 253.0 555.0 254.0 553.4C255.0 551.8 255.9 549.5 256.9 549.6C257.9 549.7 258.9 553.6 259.8 553.8C260.8 554.0 261.6 551.6 262.6 550.6C263.6 549.6 264.9 547.6 265.9 547.5C266.9 547.4 267.5 550.3 268.4 550.0C269.3 549.7 270.2 547.9 271.3 545.5C272.4 543.1 274.1 537.7 275.1 535.8C276.2 533.9 276.8 532.8 277.6 533.9C278.4 535.0 279.2 539.5 279.9 542.5C280.6 545.5 281.0 547.9 281.8 552.0C282.6 556.1 283.7 565.7 284.7 566.9C285.7 568.1 286.5 561.4 287.6 559.2C288.7 557.0 290.0 555.3 291.4 553.6C292.8 551.9 294.7 550.2 296.2 549.0C297.7 547.8 298.9 546.1 300.4 546.5C301.8 546.9 303.5 550.0 304.9 551.5C306.3 553.0 307.3 555.1 308.7 555.2C310.1 555.4 311.9 553.3 313.5 552.4C315.1 551.5 316.9 549.6 318.3 549.8C319.7 549.9 320.8 552.1 322.1 553.3C323.4 554.5 324.7 556.9 326.0 556.9C327.3 556.9 328.5 554.4 329.8 553.1C331.1 551.8 332.2 549.4 333.6 549.3C335.0 549.2 336.6 552.3 338.4 552.3C340.2 552.3 342.3 549.5 344.2 549.3C346.1 549.1 347.8 550.3 350.0 551.3C352.2 552.2 355.7 554.8 357.6 555.0C359.5 555.2 360.1 553.8 361.5 552.8C362.9 551.8 364.3 549.2 365.7 548.7C367.1 548.2 368.6 549.8 370.1 549.9C371.6 550.0 373.3 548.9 374.9 549.3C376.5 549.7 378.1 551.1 379.7 552.3C381.3 553.4 382.9 555.0 384.5 556.2C386.1 557.4 387.7 559.3 389.3 559.3C390.9 559.3 392.5 557.5 394.1 556.2C395.7 554.9 397.3 552.5 398.9 551.5C400.5 550.5 401.9 551.0 403.7 550.5C405.5 550.0 407.9 549.0 409.5 548.3C411.1 547.6 412.0 546.9 413.3 546.2C414.6 545.5 416.0 543.7 417.3 544.0C418.6 544.3 419.9 546.6 421.0 548.0C422.1 549.4 422.9 550.6 423.8 552.1C424.8 553.6 425.5 556.1 426.7 557.3C427.9 558.5 429.8 559.5 431.1 559.3C432.4 559.1 433.2 558.6 434.4 556.2C435.6 553.8 437.1 547.5 438.2 545.0C439.3 542.5 439.9 541.2 440.9 541.5C441.9 541.8 442.9 545.0 444.0 546.9C445.1 548.8 446.2 552.4 447.3 553.1C448.4 553.8 449.5 551.6 450.7 550.9C451.9 550.2 453.3 549.5 454.5 549.0C455.7 548.5 457.0 547.2 458.0 547.8C459.0 548.3 459.8 550.2 460.7 552.3C461.6 554.3 462.4 558.0 463.2 560.1C464.0 562.2 464.7 564.8 465.5 564.6C466.3 564.5 467.1 561.4 468.0 559.2C468.9 557.0 469.6 553.2 470.6 551.4C471.6 549.6 472.7 548.9 474.2 548.4C475.7 547.9 478.0 547.7 479.5 548.5C481.0 549.3 482.1 551.0 483.3 553.4C484.5 555.8 485.8 560.5 486.8 563.0C487.8 565.5 488.5 568.7 489.5 568.4C490.5 568.1 491.6 564.2 492.6 561.1C493.7 558.0 494.8 552.5 495.8 549.6C496.8 546.7 497.7 543.9 498.7 543.5C499.7 543.1 500.6 545.0 501.6 547.0C502.7 549.0 503.9 554.7 505.0 555.5C506.1 556.3 507.1 553.1 508.3 551.8C509.5 550.5 510.6 547.6 512.0 547.5C513.4 547.4 515.4 551.1 516.4 551.0C517.4 550.9 518.0 547.7 518.3 547.0"/><path stroke="#6a2470" d="M136.0 620.1C136.5 619.5 137.7 617.7 138.8 616.2C139.9 614.8 141.4 612.9 142.7 611.4C144.0 609.9 145.4 606.2 146.5 607.2C147.6 608.2 148.6 613.3 149.4 617.2C150.2 621.1 150.6 627.0 151.3 630.6C152.0 634.2 152.8 638.7 153.6 638.7C154.4 638.7 155.2 634.8 156.1 630.6C157.0 626.4 157.9 619.4 159.0 613.3C160.1 607.2 161.7 598.9 162.8 594.1C163.9 589.3 164.8 586.4 165.7 584.5C166.6 582.6 167.3 582.4 168.0 583.0C168.7 583.6 169.3 584.3 169.9 588.4C170.5 592.5 171.0 599.6 171.5 607.6C172.0 615.6 172.5 626.3 173.0 636.4C173.5 646.5 174.0 660.4 174.4 668.0C174.8 675.6 175.1 681.8 175.4 682.0C175.8 682.2 176.1 675.5 176.5 669.2C176.9 662.9 177.4 652.2 177.8 644.0C178.2 635.8 178.4 626.1 178.7 620.0C179.0 613.9 179.2 614.5 179.5 607.6C179.8 600.7 180.3 586.5 180.7 578.8C181.0 571.1 181.2 563.1 181.6 561.5C182.0 559.9 182.5 563.1 183.0 569.2C183.5 575.3 184.1 587.1 184.5 598.0C184.9 608.9 185.0 625.1 185.4 634.4C185.8 643.7 186.3 648.9 186.7 653.6C187.1 658.3 187.4 661.7 187.8 662.5C188.2 663.3 188.9 659.5 189.3 658.4C189.8 657.3 190.1 656.0 190.5 656.0C190.9 656.0 191.3 657.3 191.7 658.4C192.1 659.5 192.6 663.3 193.1 662.5C193.6 661.7 194.0 657.5 194.5 653.6C195.0 649.7 195.5 643.8 196.0 639.2C196.5 634.6 197.0 628.8 197.4 625.8C197.8 622.8 198.0 621.4 198.4 621.4C198.8 621.4 199.3 623.8 199.8 625.8C200.3 627.8 200.8 631.6 201.3 633.4C201.8 635.1 202.1 636.3 202.7 636.3C203.2 636.3 204.0 635.1 204.6 633.4C205.2 631.6 205.9 628.4 206.5 625.8C207.1 623.2 207.3 621.9 208.0 618.0C208.7 614.1 209.9 604.2 210.8 602.2C211.8 600.2 212.6 604.5 213.7 605.7C214.8 606.9 216.1 608.2 217.5 609.5C218.9 610.8 220.9 612.8 222.3 613.3C223.8 613.8 225.1 613.0 226.2 612.4C227.3 611.8 228.1 611.5 229.0 609.5C229.9 607.5 230.9 602.0 231.7 600.6C232.5 599.2 233.3 600.5 234.0 601.2C234.7 601.9 235.2 604.3 235.8 604.6C236.4 604.9 236.9 602.9 237.5 602.9C238.1 602.9 238.6 601.2 239.2 604.6C239.8 608.0 240.3 616.1 240.9 623.0C241.5 629.9 242.1 640.4 242.7 646.1C243.2 651.8 243.6 656.6 244.2 657.0C244.8 657.4 245.3 651.8 246.1 648.4C246.9 645.0 247.9 640.9 249.0 636.9C250.1 632.9 251.4 627.8 252.5 624.2C253.6 620.7 254.8 616.8 255.6 615.6C256.4 614.5 256.6 615.1 257.1 617.3C257.6 619.5 258.2 625.8 258.8 628.8C259.4 631.8 259.9 636.5 260.5 635.1C261.1 633.8 261.6 625.7 262.3 620.7C263.0 615.7 263.9 607.3 264.6 605.2C265.3 603.1 265.6 606.0 266.3 608.1C267.0 610.2 267.9 617.3 268.6 617.9C269.3 618.5 269.6 615.9 270.3 611.5C271.0 607.1 272.0 596.0 272.6 591.8C273.2 587.6 273.6 586.1 274.1 586.4C274.6 586.7 275.2 588.6 275.7 593.7C276.2 598.9 276.6 610.1 277.2 617.3C277.8 624.5 278.4 635.1 279.0 636.9C279.6 638.7 280.0 630.6 280.5 628.0C281.0 625.4 281.4 622.9 282.0 621.5C282.6 620.1 283.3 620.2 284.0 619.8C284.7 619.4 285.6 618.8 286.3 619.0C287.0 619.2 287.4 620.0 288.0 620.8C288.6 621.6 289.1 623.0 289.8 623.6C290.5 624.2 291.5 624.2 292.3 624.2C293.1 624.2 294.0 624.4 294.7 623.6C295.4 622.8 295.9 621.8 296.5 619.5C297.1 617.2 297.6 612.7 298.2 610.0C298.8 607.3 299.6 603.3 300.3 603.5C301.0 603.7 301.9 607.8 302.6 611.0C303.3 614.2 303.9 619.9 304.4 623.0C304.9 626.1 305.2 628.8 305.7 629.5C306.2 630.2 306.5 629.4 307.3 627.0C308.1 624.6 309.4 616.4 310.4 615.1C311.4 613.8 312.2 618.5 313.2 619.2C314.2 619.9 315.6 618.8 316.5 619.3C317.4 619.8 318.1 620.8 318.8 622.1C319.5 623.4 319.9 625.6 320.5 627.0C321.1 628.4 321.4 630.6 322.1 630.5C322.8 630.4 323.6 627.2 324.5 626.3C325.4 625.4 326.4 625.4 327.2 625.3C328.0 625.2 328.6 627.3 329.5 625.8C330.4 624.3 331.4 619.2 332.3 616.5C333.2 613.8 334.2 610.1 335.1 609.5C336.0 608.9 336.8 611.5 337.5 613.0C338.2 614.5 338.5 617.2 339.6 618.3C340.7 619.4 342.6 620.0 344.2 619.7C345.8 619.5 347.6 617.1 349.0 616.8C350.4 616.5 351.4 617.4 352.8 617.7C354.2 618.0 356.4 618.7 357.6 618.7C358.8 618.7 359.1 618.0 360.0 617.6C360.9 617.2 361.9 616.3 362.9 616.3C363.9 616.3 364.9 617.2 365.8 617.4C366.7 617.6 367.3 618.0 368.1 617.6C368.9 617.2 369.6 616.0 370.4 614.8C371.2 613.6 372.2 610.6 372.9 610.2C373.6 609.8 373.9 609.7 374.4 612.5C374.9 615.3 375.3 622.1 375.9 626.9C376.5 631.7 377.3 640.9 377.9 641.3C378.5 641.7 379.0 633.2 379.6 629.2C380.2 625.2 380.8 620.0 381.3 617.6C381.8 615.2 382.2 614.6 382.8 614.8C383.4 615.0 384.1 617.5 384.8 618.8C385.5 620.0 386.2 621.5 387.1 622.3C388.0 623.1 389.1 623.2 390.0 623.6C390.9 624.0 391.9 623.8 392.8 624.6C393.7 625.4 394.3 627.3 395.1 628.6C395.9 629.9 396.6 632.7 397.4 632.4C398.2 632.1 398.9 629.0 399.7 626.9C400.5 624.8 401.2 621.7 402.0 620.0C402.8 618.3 403.5 617.2 404.4 616.5C405.3 615.8 406.2 616.3 407.2 615.9C408.1 615.5 409.1 615.2 410.1 614.2C411.1 613.2 412.1 611.2 413.0 609.6C413.9 608.0 414.7 604.4 415.5 604.4C416.3 604.4 417.0 606.2 417.6 609.6C418.2 613.0 418.7 621.0 419.3 624.6C419.9 628.2 420.7 631.9 421.4 631.2C422.1 630.5 422.6 623.8 423.3 620.6C424.0 617.4 424.6 612.0 425.4 612.0C426.2 612.0 427.2 618.1 428.1 620.6C429.0 623.1 429.7 626.3 430.6 627.3C431.5 628.3 432.4 628.1 433.4 626.4C434.3 624.6 435.3 619.3 436.3 616.8C437.3 614.3 438.2 611.1 439.2 611.4C440.2 611.7 441.2 616.7 442.1 618.7C443.0 620.7 443.8 623.8 444.6 623.5C445.4 623.2 446.1 618.6 446.9 616.8C447.7 615.0 448.5 612.8 449.4 612.6C450.3 612.4 451.1 614.9 452.2 615.8C453.3 616.6 454.9 616.6 456.1 617.7C457.3 618.8 458.2 620.9 459.3 622.5C460.4 624.1 461.5 626.6 462.6 627.3C463.7 627.9 465.0 627.5 466.1 626.4C467.2 625.3 468.4 622.0 469.5 620.6C470.6 619.2 471.7 617.7 472.8 617.7C473.9 617.7 474.9 619.2 476.0 620.6C477.1 622.0 478.4 625.0 479.5 626.4C480.6 627.8 481.7 629.6 482.8 629.3C483.9 629.0 485.0 626.3 486.2 624.5C487.4 622.7 488.8 619.8 490.1 618.7C491.4 617.6 492.5 618.0 493.9 617.7C495.3 617.4 497.3 616.6 498.7 616.8C500.1 617.0 501.2 617.9 502.5 618.7C503.8 619.5 505.0 621.7 506.4 621.6C507.8 621.5 509.3 618.5 510.6 618.3C511.9 618.1 513.0 619.7 514.0 620.6C515.0 621.5 516.2 623.5 516.9 623.5C517.6 623.5 518.1 621.1 518.3 620.6"/></g>
<path d="M129.0 96.6V93.0" stroke="#3f66f2" stroke-width="1.1" fill="none"/>
<path d="M129.0 152.0V166.0" stroke="#ff2a2a" stroke-width="1.1" fill="none"/>
<path d="M129.0 215.8V240.0" stroke="#26a626" stroke-width="1.1" fill="none"/>
<path d="M129.0 269.0V300.0" stroke="#7a50f5" stroke-width="1.1" fill="none"/>
<path d="M129.0 334.5V300.0" stroke="#6a2470" stroke-width="1.1" fill="none"/>
<g clip-path="url(#cbl)" fill="none" stroke-width="1.35" stroke-linejoin="round" stroke-linecap="round"><path stroke="#3f66f2" d="M17.3 411.5C18.4 411.4 22.5 411.2 24.2 411.0C25.9 410.8 26.5 410.7 27.7 410.3C28.9 409.9 29.7 408.4 31.1 408.7C32.5 409.0 34.7 412.0 36.2 411.9C37.7 411.8 39.0 409.0 40.3 408.0C41.6 407.0 42.3 406.1 43.8 405.7C45.3 405.3 48.0 405.1 49.5 405.7C51.0 406.3 51.6 407.1 53.0 409.2C54.4 411.3 56.2 418.0 57.6 418.4C59.0 418.8 60.0 414.2 61.1 411.5C62.2 408.8 63.1 403.0 64.1 402.2C65.0 401.4 65.8 403.7 66.8 406.8C67.8 409.9 69.1 416.9 70.3 420.7C71.5 424.5 72.5 429.9 73.7 429.9C74.9 429.9 75.9 425.0 77.2 420.7C78.5 416.4 80.5 406.6 81.8 404.1C83.1 401.6 84.0 405.1 85.2 405.7C86.4 406.3 87.4 407.5 88.7 408.0C90.0 408.5 91.5 407.7 92.8 408.7C94.1 409.7 95.5 414.3 96.8 413.8C98.1 413.3 99.7 406.1 100.7 405.7C101.7 405.3 102.1 408.2 103.0 411.5C103.9 414.8 105.0 424.5 106.0 425.3C107.0 426.1 107.8 419.6 108.7 416.1C109.7 412.6 110.6 405.5 111.7 404.1C112.8 402.8 113.9 407.1 115.2 408.0C116.5 408.9 118.3 409.2 119.8 409.6C121.3 410.0 122.9 410.2 124.4 410.3C125.9 410.4 127.9 410.3 128.6 410.3"/><path stroke="#ff2a2a" d="M17.3 456.4C18.4 456.4 21.9 456.6 24.2 456.4C26.5 456.2 29.1 455.1 31.1 455.2C33.1 455.3 34.7 457.2 36.2 456.8C37.7 456.4 39.0 453.8 40.3 452.9C41.6 451.9 42.3 451.3 43.8 451.1C45.3 450.9 48.0 451.1 49.5 451.8C51.0 452.5 51.6 453.2 53.0 455.2C54.4 457.2 56.2 463.8 57.6 464.0C59.0 464.2 60.0 459.0 61.1 456.4C62.2 453.8 63.1 448.9 64.1 448.3C65.0 447.7 65.8 450.2 66.8 452.9C67.8 455.6 69.1 460.9 70.3 464.4C71.5 467.9 72.5 473.7 73.7 474.1C74.9 474.5 75.9 470.8 77.2 466.7C78.5 462.6 80.5 451.8 81.8 449.5C83.1 447.2 84.0 452.2 85.2 452.9C86.4 453.5 87.4 453.0 88.7 453.4C90.0 453.8 91.5 454.1 92.8 455.2C94.1 456.3 95.5 460.6 96.8 459.8C98.1 459.0 99.7 451.2 100.7 450.6C101.7 450.0 102.1 453.1 103.0 456.4C103.9 459.7 105.0 469.4 106.0 470.2C107.0 471.0 107.8 464.4 108.7 461.0C109.7 457.6 110.6 450.6 111.7 449.5C112.8 448.4 113.9 453.1 115.2 454.1C116.5 455.1 118.3 455.4 119.8 455.7C121.3 456.0 122.9 455.7 124.4 455.7C125.9 455.7 127.9 455.7 128.6 455.7"/><path stroke="#26a626" d="M17.3 503.1C18.4 503.0 22.1 502.5 24.2 502.2C26.3 501.9 28.0 501.4 30.0 501.5C32.0 501.6 34.5 503.4 36.2 503.1C37.9 502.8 38.8 500.8 40.3 499.9C41.8 499.0 43.4 498.0 44.9 497.6C46.4 497.2 48.1 497.1 49.5 497.6C50.9 498.1 51.6 498.8 53.0 500.8C54.4 502.8 56.2 509.4 57.6 509.5C59.0 509.6 60.0 504.4 61.1 501.5C62.2 498.6 63.4 493.1 64.5 492.3C65.6 491.5 66.5 493.2 67.5 496.9C68.5 500.5 69.7 509.5 70.7 514.2C71.7 518.9 72.6 525.2 73.7 525.2C74.8 525.2 75.9 519.3 77.2 514.2C78.5 509.1 80.5 497.5 81.8 494.6C83.1 491.7 84.0 496.3 85.2 496.9C86.4 497.5 87.4 497.4 88.7 498.0C90.0 498.6 91.5 499.6 92.8 500.3C94.1 501.0 95.6 502.8 96.8 502.2C98.0 501.6 99.2 497.0 100.2 496.9C101.2 496.8 102.0 497.9 103.0 501.5C104.0 505.1 105.0 517.5 106.0 518.8C107.0 520.1 108.0 513.6 109.0 509.5C110.0 505.4 111.0 495.4 112.2 493.9C113.4 492.4 114.8 498.9 116.3 500.3C117.8 501.7 118.9 501.8 120.9 502.2C123.0 502.6 127.3 502.5 128.6 502.6"/><path stroke="#7a50f5" d="M17.3 552.2C18.1 552.1 20.4 552.3 21.9 551.7C23.4 551.1 25.1 549.1 26.5 548.7C27.9 548.3 28.9 548.2 30.0 549.2C31.1 550.2 32.2 553.0 33.4 554.5C34.5 556.0 35.8 558.3 36.9 557.9C38.0 557.5 39.1 554.3 40.3 552.2C41.4 550.1 42.6 546.6 43.8 545.2C44.9 543.9 45.9 544.5 47.2 544.1C48.5 543.7 50.2 542.1 51.4 542.9C52.6 543.7 53.2 545.5 54.2 548.7C55.2 551.9 56.5 561.7 57.6 562.1C58.7 562.5 59.6 555.5 60.6 551.0C61.6 546.5 62.5 538.4 63.4 534.9C64.2 531.4 64.9 528.3 65.7 529.8C66.5 531.3 67.5 536.7 68.4 544.1C69.4 551.5 70.7 567.0 71.4 574.0C72.1 581.0 72.2 582.2 72.6 586.1C73.0 590.0 73.2 597.6 73.7 597.6C74.2 597.6 74.7 590.4 75.3 586.1C75.9 581.8 76.3 579.1 77.2 571.7C78.1 564.3 79.6 547.5 80.6 541.8C81.5 536.0 81.9 536.6 82.9 537.2C83.9 537.8 85.2 544.1 86.4 545.2C87.6 546.3 88.8 543.6 89.9 543.6C91.1 543.6 92.3 545.5 93.3 545.2C94.3 544.9 95.1 543.4 96.1 541.8C97.1 540.1 98.2 534.9 99.1 535.3C100.0 535.7 100.6 538.0 101.4 544.1C102.2 550.2 103.2 564.7 103.7 571.7C104.2 578.7 104.2 581.7 104.5 586.0C104.8 590.3 105.0 597.6 105.3 597.6C105.6 597.6 105.9 590.3 106.5 586.0C107.1 581.7 108.0 580.8 109.0 571.7C110.0 562.6 111.2 537.1 112.2 531.4C113.2 525.6 114.1 534.5 115.2 537.2C116.3 539.9 117.3 545.4 118.6 547.5C119.9 549.6 121.5 549.3 123.2 549.9C124.9 550.5 127.7 550.8 128.6 551.0"/><path stroke="#6a2470" d="M17.3 618.8C18.1 618.6 20.2 618.5 21.9 617.9C23.6 617.2 26.2 614.4 27.7 614.9C29.2 615.4 29.8 618.1 30.7 620.7C31.6 623.3 32.6 629.5 33.4 630.3C34.2 631.1 34.7 628.5 35.7 625.3C36.7 622.1 38.1 612.9 39.2 611.0C40.4 609.1 41.7 612.9 42.6 613.8C43.5 614.6 43.8 616.0 44.9 616.1C46.0 616.2 48.1 612.9 49.5 614.4C50.9 615.9 51.8 621.5 53.0 625.3C54.2 629.1 55.8 637.7 56.9 637.3C58.0 636.9 58.8 629.1 59.9 623.0C61.0 616.9 62.8 603.5 63.8 600.4C64.8 597.3 65.0 598.8 66.1 604.5C67.2 610.2 69.1 627.7 70.3 634.5C71.5 641.3 72.3 645.5 73.3 645.5C74.2 645.5 75.0 639.8 76.0 634.5C77.0 629.2 78.2 616.5 79.5 613.8C80.8 611.1 82.3 618.2 83.6 618.4C84.9 618.6 86.2 616.0 87.5 614.9C88.8 613.8 90.3 611.1 91.5 611.9C92.7 612.7 93.6 617.4 94.5 619.5C95.4 621.6 95.8 626.2 96.8 624.8C97.8 623.4 99.5 609.8 100.7 611.0C101.9 612.2 102.9 626.6 103.7 632.2C104.5 637.9 104.7 645.3 105.5 644.9C106.3 644.5 107.3 635.9 108.3 629.9C109.3 623.9 110.5 611.2 111.7 608.7C112.9 606.2 113.9 613.5 115.2 614.9C116.5 616.3 118.3 616.8 119.8 617.2C121.3 617.6 122.9 616.9 124.4 617.2C125.9 617.5 127.9 618.5 128.6 618.8"/></g>
<rect x="149.7" y="647.1" width="8" height="29.6" fill="#fff"/>
<rect x="163.0" y="614.2" width="8" height="29.7" fill="#fff"/>
<rect x="171.5" y="686.0" width="8" height="29.5" fill="#fff"/>
<rect x="183.0" y="669.0" width="8" height="30.0" fill="#fff"/>
<rect x="193.8" y="671.5" width="8" height="29.5" fill="#fff"/>
<rect x="202.0" y="640.7" width="8" height="29.9" fill="#fff"/>
<rect x="240.8" y="666.5" width="8" height="29.3" fill="#fff"/>
<rect x="257.2" y="643.3" width="8" height="29.3" fill="#fff"/>
<rect x="267.2" y="623.9" width="8" height="29.2" fill="#fff"/>
<rect x="277.2" y="645.1" width="8" height="29.2" fill="#fff"/>
<rect x="286.8" y="630.9" width="8" height="29.0" fill="#fff"/>
<rect x="299.6" y="635.1" width="8" height="29.2" fill="#fff"/>
<rect x="310.4" y="627.6" width="8" height="29.2" fill="#fff"/>
<rect x="320.1" y="640.8" width="8" height="29.3" fill="#fff"/>
<rect x="329.6" y="631.1" width="8" height="30.1" fill="#fff"/>
<rect x="338.8" y="625.4" width="8" height="29.2" fill="#fff"/>
<rect x="355.8" y="625.4" width="8" height="29.2" fill="#fff"/>
<rect x="373.9" y="649.3" width="8" height="29.3" fill="#fff"/>
<rect x="388.6" y="632.6" width="8" height="29.3" fill="#fff"/>
<rect x="396.4" y="637.5" width="8" height="29.4" fill="#fff"/>
<rect x="416.7" y="637.5" width="8" height="29.4" fill="#fff"/>
<rect x="429.8" y="633.8" width="8" height="29.3" fill="#fff"/>
<rect x="443.7" y="630.3" width="8" height="29.3" fill="#fff"/>
<rect x="460.2" y="636.1" width="8" height="29.3" fill="#fff"/>
<rect x="477.6" y="635.3" width="8" height="30.1" fill="#fff"/>
<rect x="490.6" y="629.2" width="8" height="30.7" fill="#fff"/>
<rect x="506.0" y="627.3" width="8" height="25.3" fill="#fff"/>
<rect x="30.1" y="637.6" width="8" height="30.6" fill="#fff"/>
<rect x="54.1" y="643.9" width="8" height="30.7" fill="#fff"/>
<rect x="69.7" y="652.6" width="8" height="30.6" fill="#fff"/>
<rect x="92.8" y="629.6" width="8" height="30.7" fill="#fff"/>
<rect x="103.1" y="652.6" width="8" height="30.1" fill="#fff"/>
<text transform="translate(157.0 667.2) rotate(-90)" font-size="9.3" fill="#111">1743</text>
<text transform="translate(170.3 634.4) rotate(-90)" font-size="9.3" fill="#111">1717</text>
<text transform="translate(178.8 706.0) rotate(-90)" font-size="9.3" fill="#111">1695</text>
<text transform="translate(190.3 689.5) rotate(-90)" font-size="9.3" fill="#111">1670</text>
<text transform="translate(201.1 691.5) rotate(-90)" font-size="9.3" fill="#111">1654</text>
<text transform="translate(209.3 661.1) rotate(-90)" font-size="9.3" fill="#111">1638</text>
<text transform="translate(248.1 686.3) rotate(-90)" font-size="9.3" fill="#111">1550</text>
<text transform="translate(264.5 663.1) rotate(-90)" font-size="9.3" fill="#111">1514</text>
<text transform="translate(274.5 643.6) rotate(-90)" font-size="9.3" fill="#111">1496</text>
<text transform="translate(284.5 664.8) rotate(-90)" font-size="9.3" fill="#111">1475</text>
<text transform="translate(294.1 650.4) rotate(-90)" font-size="9.3" fill="#111">1452</text>
<text transform="translate(306.9 654.8) rotate(-90)" font-size="9.3" fill="#111">1418</text>
<text transform="translate(317.7 647.3) rotate(-90)" font-size="9.3" fill="#111">1400</text>
<text transform="translate(327.4 660.6) rotate(-90)" font-size="9.3" fill="#111">1382</text>
<text transform="translate(336.9 651.7) rotate(-90)" font-size="9.3" fill="#111">1369</text>
<text transform="translate(346.1 645.1) rotate(-90)" font-size="9.3" fill="#111">1335</text>
<text transform="translate(363.1 645.1) rotate(-90)" font-size="9.3" fill="#111">1310</text>
<text transform="translate(381.2 669.1) rotate(-90)" font-size="9.3" fill="#111">1264</text>
<text transform="translate(395.9 652.4) rotate(-90)" font-size="9.3" fill="#111">1243</text>
<text transform="translate(403.7 657.4) rotate(-90)" font-size="9.3" fill="#111">1222</text>
<text transform="translate(424.0 657.4) rotate(-90)" font-size="9.3" fill="#111">1172</text>
<text transform="translate(437.1 653.6) rotate(-90)" font-size="9.3" fill="#111">1155</text>
<text transform="translate(451.0 650.1) rotate(-90)" font-size="9.3" fill="#111">1122</text>
<text transform="translate(467.5 655.9) rotate(-90)" font-size="9.3" fill="#111">1080</text>
<text transform="translate(484.9 655.9) rotate(-90)" font-size="9.3" fill="#111">1045</text>
<text transform="translate(497.9 650.4) rotate(-90)" font-size="9.3" fill="#111">1025</text>
<text transform="translate(513.3 643.1) rotate(-90)" font-size="9.3" fill="#111">992</text>
<text transform="translate(37.4 658.7) rotate(-90)" font-size="9.3" fill="#111">3014</text>
<text transform="translate(61.4 665.1) rotate(-90)" font-size="9.3" fill="#111">2960</text>
<text transform="translate(77.0 673.7) rotate(-90)" font-size="9.3" fill="#111">2925</text>
<text transform="translate(100.1 650.8) rotate(-90)" font-size="9.3" fill="#111">2872</text>
<text transform="translate(110.4 673.2) rotate(-90)" font-size="9.3" fill="#111">2852</text>
<path d="M16.8 1.9H129.9V719.4H16.8ZM16.8 357.0H129.9M135.4 1.9H519.0V719.4H135.4ZM135.4 357.0H519.0" stroke="#151515" stroke-width="1.4" fill="none"/>
<path d="M173.4 357.0v-2.8M173.4 719.4v-2.8M220.5 357.0v-4.8M220.5 719.4v-4.8M267.5 357.0v-2.8M267.5 719.4v-2.8M314.6 357.0v-4.8M314.6 719.4v-4.8M361.7 357.0v-2.8M361.7 719.4v-2.8M408.8 357.0v-4.8M408.8 719.4v-4.8M455.8 357.0v-2.8M455.8 719.4v-2.8M502.9 357.0v-4.8M502.9 719.4v-4.8M39.1 357.0v-5M39.1 719.4v-5M83.8 357.0v-5M83.8 719.4v-5M128.6 357.0v-5M128.6 719.4v-5M61.5 357.0v-2.6M61.5 719.4v-2.6M106.2 357.0v-2.6M106.2 719.4v-2.6" stroke="#151515" stroke-width="1.3" fill="none"/>
<text x="175.5" y="731.9" font-size="10.4" text-anchor="middle" fill="#111">1700</text>
<text x="223.0" y="731.9" font-size="10.4" text-anchor="middle" fill="#111">1600</text>
<text x="270.0" y="731.9" font-size="10.4" text-anchor="middle" fill="#111">1500</text>
<text x="316.4" y="731.9" font-size="10.4" text-anchor="middle" fill="#111">1400</text>
<text x="363.5" y="731.9" font-size="10.4" text-anchor="middle" fill="#111">1300</text>
<text x="410.0" y="731.9" font-size="10.4" text-anchor="middle" fill="#111">1200</text>
<text x="457.3" y="731.9" font-size="10.4" text-anchor="middle" fill="#111">1100</text>
<text x="505.0" y="731.9" font-size="10.4" text-anchor="middle" fill="#111">1000</text>
<text x="38.7" y="731.9" font-size="10.4" text-anchor="middle" fill="#111">3000</text>
<text x="82.6" y="731.9" font-size="10.4" text-anchor="middle" fill="#111">2900</text>
<text x="125.0" y="731.9" font-size="10.4" text-anchor="middle" fill="#111">2800</text>
<text x="282" y="746.7" font-size="10.3" text-anchor="middle" fill="#111">Wavenumber (cm<tspan font-size="6.5" dy="-3.6">-1</tspan><tspan dy="3.6">)</tspan></text>
<path d="M23.8 304.4V351.3M21.4 304.4h4.8M21.4 351.3h4.8M484.5 304.4V351.3M482.1 304.4h4.8M482.1 351.3h4.8M24.2 667.6V714.5M21.8 667.6h4.8M21.8 714.5h4.8M484.0 667.7V715.0M481.6 667.7h4.8M481.6 715.0h4.8" stroke="#151515" stroke-width="1.1" fill="none"/>
<text x="37.6" y="325.9" font-size="8.4" text-anchor="middle" fill="#111">0.20</text>
<text x="37.6" y="334.5" font-size="8.4" text-anchor="middle" fill="#111">(a.u.)</text>
<text x="498.9" y="326.1" font-size="8.4" text-anchor="middle" fill="#111">0.20</text>
<text x="498.9" y="334.7" font-size="8.4" text-anchor="middle" fill="#111">(a.u.)</text>
<text x="39.3" y="691.7" font-size="9.1" text-anchor="middle" fill="#111">0.004</text>
<text x="39.3" y="702.2" font-size="9.1" text-anchor="middle" fill="#111">(a.u.)</text>
<text x="499.8" y="692.0" font-size="9.1" text-anchor="middle" fill="#111">0.004</text>
<text x="499.8" y="702.6" font-size="9.1" text-anchor="middle" fill="#111">(a.u.)</text>
<text x="145" y="19.3" font-size="12.2" font-weight="bold" fill="#111">(<tspan font-style="italic">a</tspan>) Average EMSC-corrected absorbance spectra</text>
<text x="147.5" y="374.2" font-size="12.28" font-weight="bold" fill="#111">(<tspan font-style="italic">b</tspan>) Average EMSC-corrected 2<tspan font-size="8" dy="-4.5">nd</tspan><tspan dy="4.5"> derivative spectra</tspan></text>
<text x="286.3" y="70.8" font-size="9.7" letter-spacing="-0.25" font-weight="bold" fill="#2340e0">AMCQC10C</text>
<text x="286.3" y="122.9" font-size="9.7" letter-spacing="-0.25" font-weight="bold" fill="#f01818">AMCQC12C</text>
<text x="289.3" y="177.6" font-size="9.7" letter-spacing="-0.25" font-weight="bold" fill="#157515">AMCQC1D</text>
<text x="289.3" y="223.6" font-size="9.7" letter-spacing="-0.25" font-weight="bold" fill="#5026cc">AMCQC8A</text>
<text x="271.6" y="296.6" font-size="9.2" font-weight="bold" fill="#1e0b2a">Thraustochytrids</text>
<text x="292.7" y="392.7" font-size="9.7" letter-spacing="-0.25" font-weight="bold" fill="#2340e0">AMCQC10C</text>
<text x="292.4" y="440.7" font-size="9.7" letter-spacing="-0.25" font-weight="bold" fill="#f01818">AMCQC12C</text>
<text x="295.3" y="485.0" font-size="9.7" letter-spacing="-0.25" font-weight="bold" fill="#157515">AMCQC1D</text>
<text x="295.3" y="535.6" font-size="9.7" letter-spacing="-0.25" font-weight="bold" fill="#5026cc">AMCQC8A</text>
<text x="279.6" y="596.0" font-size="9.2" font-weight="bold" fill="#1e0b2a">Thraustochytrids</text>
<text id="ylab1" transform="translate(10.1 151.3) rotate(-90)" font-size="12" text-anchor="middle" fill="#111">Absorbance (a.u.)</text>
<text id="ylab2" transform="translate(10.1 502.4) rotate(-90)" font-size="12" text-anchor="middle" fill="#111"><tspan font-style="italic">d</tspan><tspan font-size="8" dy="-4.5">2</tspan><tspan dy="4.5"> Abs / </tspan><tspan font-style="italic">d</tspan>(cm<tspan font-size="8" dy="-4.5">-1</tspan><tspan dy="4.5">)</tspan><tspan font-size="8" dy="-4.5">2</tspan></text>
</svg></body></html>
